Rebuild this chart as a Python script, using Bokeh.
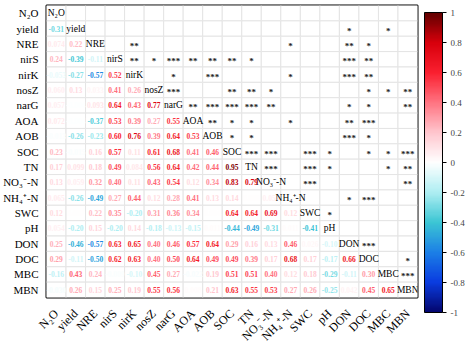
import numpy as np
from bokeh.plotting import figure
from bokeh.models import (ColumnDataSource, LinearColorMapper, ColorBar, FixedTicker,
                          FactorRange, CustomJSTickFormatter)
from bokeh.core.properties import value
from bokeh.embed import file_html
from bokeh.resources import INLINE

# ---------------- data ----------------
variables = ["N₂O", "yield", "NRE", "nirS", "nirK", "nosZ", "narG", "AOA", "AOB", "SOC",
             "TN", "NO₃⁻-N", "NH₄⁺-N", "SWC", "pH", "DON", "DOC", "MBC", "MBN"]

# lower triangle correlation coefficients (row variable vs. earlier columns)
r_yield = [-0.31]
r_NRE = [0.074, 0.22]
r_nirS = [0.24, -0.39, -0.11]
r_nirK = [-0.053, -0.27, -0.57, 0.52]
r_nosZ = [0.060, 0.13, 0.033, 0.41, 0.26]
r_narG = [0.057, -0.004, 0.093, 0.64, 0.43, 0.77]
r_AOA = [0.072, -0.004, -0.37, 0.53, 0.39, 0.27, 0.55]
r_AOB = [-0.013, -0.26, -0.23, 0.60, 0.76, 0.39, 0.64, 0.53]
r_SOC = [0.23, -0.015, 0.16, 0.57, 0.11, 0.61, 0.68, 0.41, 0.46]
r_TN = [0.17, 0.099, 0.18, 0.49, 0.084, 0.56, 0.64, 0.42, 0.44, 0.95]
r_NO3 = [0.13, 0.059, 0.32, 0.40, 0.11, 0.43, 0.54, 0.12, 0.34, 0.83, 0.79]
r_NH4 = [0.065, -0.26, -0.49, 0.27, 0.44, 0.12, 0.28, 0.41, 0.13, 0.14, 0.001, 0.05]
r_SWC = [0.12, 0.007, 0.22, 0.35, -0.20, 0.31, 0.36, 0.34, 0.004, 0.64, 0.64, 0.69, 0.12]
r_pH = [0.054, -0.20, 0.15, -0.20, 0.14, -0.18, -0.13, -0.15, 0.011, -0.44, -0.49, -0.31,
        0.011, -0.41]
r_DON = [0.25, -0.46, -0.57, 0.63, 0.65, 0.40, 0.46, 0.57, 0.64, 0.29, 0.16, 0.13, 0.46,
         0.026, -0.10]
r_DOC = [0.29, -0.11, -0.50, 0.62, 0.63, 0.40, 0.50, 0.64, 0.49, 0.49, 0.39, 0.17, 0.68,
         0.17, -0.17, 0.66]
r_MBC = [-0.16, 0.43, 0.24, -0.009, -0.10, 0.45, 0.27, -0.022, 0.19, 0.51, 0.51, 0.40, 0.12,
         0.18, -0.29, -0.11, 0.30]
r_MBN = [-0.03, 0.26, 0.15, 0.25, 0.19, 0.55, 0.56, 0.008, 0.21, 0.63, 0.55, 0.53, 0.27,
         0.26, -0.25, 0.042, 0.45, 0.65]
lower_rows = [[], r_yield, r_NRE, r_nirS, r_nirK, r_nosZ, r_narG, r_AOA, r_AOB, r_SOC, r_TN,
              r_NO3, r_NH4, r_SWC, r_pH, r_DON, r_DOC, r_MBC, r_MBN]

# upper triangle significance marks (row variable -> column variable)
sig_yield = {"DON": "*", "MBC": "*"}
sig_NRE = {"nirK": "**", "NH₄⁺-N": "*", "DON": "**", "DOC": "*"}
sig_nirS = {"nirK": "**", "nosZ": "*", "narG": "***", "AOA": "**", "AOB": "**", "SOC": "**",
            "TN": "*", "DON": "***", "DOC": "**"}
sig_nirK = {"narG": "*", "AOB": "***", "NH₄⁺-N": "*", "DON": "***", "DOC": "**"}
sig_nosZ = {"narG": "***", "SOC": "**", "TN": "**", "NO₃⁻-N": "*", "DOC": "*", "MBC": "*",
            "MBN": "**"}
sig_narG = {"AOA": "**", "AOB": "***", "SOC": "***", "TN": "***", "NO₃⁻-N": "**", "DON": "*",
            "DOC": "*", "MBN": "**"}
sig_AOA = {"AOB": "**", "SOC": "*", "TN": "*", "NH₄⁺-N": "*", "DON": "**", "DOC": "***"}
sig_AOB = {"SOC": "*", "TN": "*", "DON": "***", "DOC": "*"}
sig_SOC = {"TN": "***", "NO₃⁻-N": "***", "SWC": "***", "pH": "*", "DOC": "*", "MBC": "*",
           "MBN": "***"}
sig_TN = {"NO₃⁻-N": "***", "SWC": "***", "pH": "*", "MBC": "*", "MBN": "**"}
sig_NO3 = {"SWC": "***", "MBN": "**"}
sig_NH4 = {"DON": "*", "DOC": "***"}
sig_SWC = {"pH": "*"}
sig_DON = {"DOC": "***"}
sig_DOC = {"MBN": "*"}
sig_MBC = {"MBN": "***"}
sig_rows = {"yield": sig_yield, "NRE": sig_NRE, "nirS": sig_nirS, "nirK": sig_nirK,
            "nosZ": sig_nosZ, "narG": sig_narG, "AOA": sig_AOA, "AOB": sig_AOB,
            "SOC": sig_SOC, "TN": sig_TN, "NO₃⁻-N": sig_NO3, "NH₄⁺-N": sig_NH4,
            "SWC": sig_SWC, "DON": sig_DON, "DOC": sig_DOC, "MBC": sig_MBC}

colorbar_ticks = [-1, -0.8, -0.6, -0.4, -0.2, 0, 0.2, 0.4, 0.6, 0.8, 1]

# ---------------- colour scale ----------------
anchors = [(-1.0, "#04066e"), (-0.8, "#0a3ce0"), (-0.6, "#1c80e6"), (-0.4, "#3cc6d4"),
           (-0.2, "#aeeef2"), (0.0, "#ffffff"), (0.2, "#ffc6ce"), (0.4, "#ff7482"),
           (0.6, "#fa2030"), (0.8, "#d8000c"), (1.0, "#620000")]


def _rgb(h):
    return np.array([int(h[i:i + 2], 16) for i in (1, 3, 5)], dtype=float)


palette = []
pos = np.array([a[0] for a in anchors])
cols = np.array([_rgb(a[1]) for a in anchors])
for v in np.linspace(-1, 1, 256):
    c = [np.interp(v, pos, cols[:, k]) for k in range(3)]
    palette.append("#%02x%02x%02x" % tuple(int(round(x)) for x in c))
mapper = LinearColorMapper(palette=palette, low=-1, high=1)


def fmt(v):
    return ("%.3f" % v) if abs(v) < 0.1 else ("%.2f" % v)


# ---------------- sources ----------------
cell_x, cell_y = [], []
for yv in variables:
    for xv in variables:
        cell_x.append(xv)
        cell_y.append(yv)
cells = ColumnDataSource(dict(x=cell_x, y=cell_y))

lx, ly, lr, lt = [], [], [], []
for i, row in enumerate(lower_rows):
    for j, r in enumerate(row):
        lx.append(variables[j])
        ly.append(variables[i])
        lr.append(r)
        lt.append(fmt(r))
low_src = ColumnDataSource(dict(x=lx, y=ly, r=lr, t=lt))

diag_src = ColumnDataSource(dict(x=variables, y=variables, t=variables))

sx, sy, st = [], [], []
for rv, d in sig_rows.items():
    for cv, s in d.items():
        sx.append(cv)
        sy.append(rv)
        st.append(s)
sig_src = ColumnDataSource(dict(x=sx, y=sy, t=st))

SERIF = "'Liberation Serif', 'Times New Roman', serif"

# ---------------- figure ----------------
p = figure(width=474, height=351, output_backend="svg", toolbar_location=None,
           x_range=FactorRange(factors=variables),
           y_range=FactorRange(factors=list(reversed(variables))),
           min_border_left=42, min_border_top=5, min_border_bottom=42, min_border_right=0)
p.background_fill_color = "white"
p.border_fill_color = "white"
p.outline_line_color = "black"
p.outline_line_width = 2
p.xgrid.grid_line_color = None
p.ygrid.grid_line_color = None

p.rect(x="x", y="y", width=1, height=1, source=cells, fill_color="white",
       line_color="#e4e4e4", line_width=1)

p.text(x="x", y="y", text="t", source=low_src,
       text_color={"field": "r", "transform": mapper},
       text_font=value(SERIF), text_font_size="7.5px", text_font_style="bold",
       text_align="center", text_baseline="middle")
p.text(x="x", y="y", text="t", source=diag_src, text_color="black",
       text_font=value(SERIF), text_font_size="9.5px",
       text_align="center", text_baseline="middle")
p.text(x="x", y="y", text="t", source=sig_src, text_color="#222222",
       text_font=value(SERIF), text_font_size="9px", text_font_style="bold",
       text_align="center", text_baseline="middle", y_offset=2)

for ax in (p.xaxis, p.yaxis):
    ax.axis_line_color = None
    ax.major_tick_line_color = None
    ax.minor_tick_line_color = None
    ax.major_label_text_font = SERIF
    ax.major_label_text_color = "black"
p.yaxis.major_label_text_font_size = "11px"
p.yaxis.major_label_standoff = 2
p.xaxis.major_label_text_font_size = "12px"
p.xaxis.major_label_orientation = np.pi / 4
p.xaxis.major_label_standoff = 8

cb = ColorBar(color_mapper=mapper, ticker=FixedTicker(ticks=colorbar_ticks),
              formatter=CustomJSTickFormatter(code="return tick.toString()"),
              width=18, height=300, margin=2, padding=7,
              major_tick_out=4, major_tick_in=0, major_tick_line_color="black",
              bar_line_color="black", bar_line_width=1, label_standoff=4,
              major_label_text_font=SERIF, major_label_text_font_size="9px",
              background_fill_color=None, border_line_color=None)
p.add_layout(cb, "right")

open("out.html", "w").write(file_html(p, INLINE))
